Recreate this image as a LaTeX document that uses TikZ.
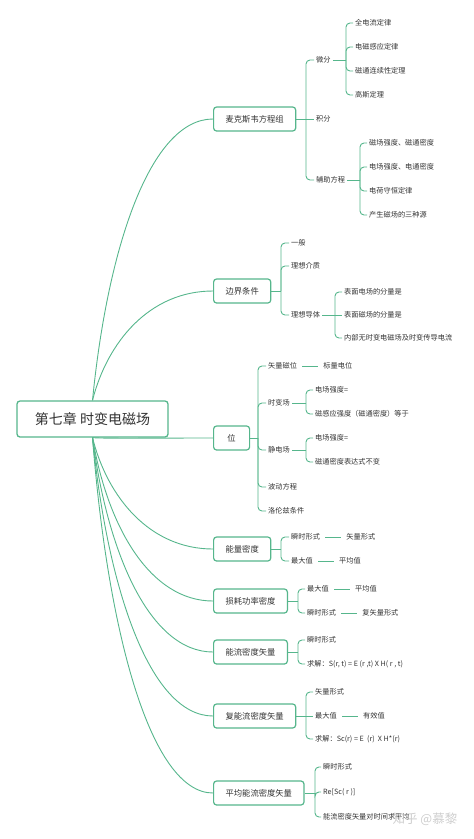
\documentclass[tikz,border=0pt]{standalone}
\usepackage{fontspec}
\setmainfont{Noto Sans CJK SC}
\usetikzlibrary{positioning}
\definecolor{mapgreen}{RGB}{86,182,140}
\definecolor{maptext}{RGB}{51,51,51}
\definecolor{markgray}{RGB}{200,200,200}
\tikzset{rootbox/.style={draw=mapgreen, line width=1.3pt, rounded corners=3pt, fill=white, minimum width=151pt, minimum height=36pt, font=\fontsize{14}{16}\selectfont, text=maptext}}
\tikzset{topicbox/.style={draw=mapgreen, line width=1.2pt, rounded corners=3pt, fill=white, anchor=west, minimum height=24pt, minimum width=36pt, inner xsep=12pt, font=\fontsize{8.3}{10}\selectfont, text=maptext}}
\tikzset{leaftext/.style={anchor=west, inner sep=2pt, font=\fontsize{7.2}{8.6}\selectfont, text=maptext}}
\tikzset{conn/.style={draw=mapgreen, line width=0.9pt}}
\tikzset{forkline/.style={conn, rounded corners=4pt}}
\tikzset{chainline/.style={conn, shorten <=3pt, shorten >=3pt}}

\begin{document}
\begin{tikzpicture}[x=1pt,y=-1pt]
\useasboundingbox (0,0) rectangle (474,839);

\node[rootbox] (root) at (92.5,419) {第七章 时变电磁场};

\node[topicbox] (maxw) at (213,119) {麦克斯韦方程组};
\node[topicbox] (bjtj) at (213,291) {边界条件};
\node[topicbox] (wei) at (213,438) {位};
\node[topicbox] (nlmd) at (213,549) {能量密度};
\node[topicbox] (shmd) at (213,601) {损耗功率密度};
\node[topicbox] (nlsl) at (213,652) {能流密度矢量};
\node[topicbox] (fnsl) at (213,716) {复能流密度矢量};
\node[topicbox] (pjsl) at (213,793) {平均能流密度矢量};

% root to topics
\draw[conn] (root.north) .. controls +(15,-152) and +(-63,0) .. (maxw.west);
\draw[conn] (root.north) .. controls +(15,-59) and +(-63,0) .. (bjtj.west);
\draw[conn] (root.south) .. controls +(15,1) and +(-63,0) .. (wei.west);
\draw[conn] (root.south) .. controls +(15,60) and +(-63,0) .. (nlmd.west);
\draw[conn] (root.south) .. controls +(15,89) and +(-63,0) .. (shmd.west);
\draw[conn] (root.south) .. controls +(15,116) and +(-63,0) .. (nlsl.west);
\draw[conn] (root.south) .. controls +(15,151) and +(-63,0) .. (fnsl.west);
\draw[conn] (root.south) .. controls +(15,192) and +(-63,0) .. (pjsl.west);

% maxwell
\coordinate (maxw-j) at (306,119);
\node[leaftext] (wf) at (314,60) {微分};
\node[leaftext] (jf) at (314,119) {积分};
\node[leaftext] (fz) at (314,180) {辅助方程};
\draw[conn] (maxw.east) -- (maxw-j);
\draw[forkline] (maxw-j) |- (wf.west);
\draw[conn] (maxw-j) -- (jf.west);
\draw[forkline] (maxw-j) |- (fz.west);

\coordinate (wf-j) at (346,60);
\node[leaftext] (wf1) at (353,23) {全电流定律};
\node[leaftext] (wf2) at (353,47) {电磁感应定律};
\node[leaftext] (wf3) at (353,71) {磁通连续性定理};
\node[leaftext] (wf4) at (353,95) {高斯定理};
\draw[conn] (wf.east) -- (wf-j);
\draw[forkline] (wf-j) |- (wf1.west);
\draw[forkline] (wf-j) |- (wf2.west);
\draw[forkline] (wf-j) |- (wf3.west);
\draw[forkline] (wf-j) |- (wf4.west);

\coordinate (fz-j) at (360,180);
\node[leaftext] (fz1) at (367,143) {磁场强度、磁通密度};
\node[leaftext] (fz2) at (367,167) {电场强度、电通密度};
\node[leaftext] (fz3) at (367,191) {电荷守恒定律};
\node[leaftext] (fz4) at (367,215) {产生磁场的三种源};
\draw[conn] (fz.east) -- (fz-j);
\draw[forkline] (fz-j) |- (fz1.west);
\draw[forkline] (fz-j) |- (fz2.west);
\draw[forkline] (fz-j) |- (fz3.west);
\draw[forkline] (fz-j) |- (fz4.west);

% boundary
\coordinate (bjtj-j) at (281,291);
\node[leaftext] (yb) at (289,243) {一般};
\node[leaftext] (lxjz) at (289,266) {理想介质};
\node[leaftext] (lxdt) at (289,315) {理想导体};
\draw[conn] (bjtj.east) -- (bjtj-j);
\draw[forkline] (bjtj-j) |- (yb.west);
\draw[forkline] (bjtj-j) |- (lxjz.west);
\draw[forkline] (bjtj-j) |- (lxdt.west);

\coordinate (lxdt-j) at (335,315);
\node[leaftext] (dt1) at (342,292) {表面电场的分量是};
\node[leaftext] (dt2) at (342,315) {表面磁场的分量是};
\node[leaftext] (dt3) at (342,338) {内部无时变电磁场及时变传导电流};
\draw[conn] (lxdt.east) -- (lxdt-j);
\draw[forkline] (lxdt-j) |- (dt1.west);
\draw[conn] (lxdt-j) -- (dt2.west);
\draw[forkline] (lxdt-j) |- (dt3.west);

% potential
\coordinate (wei-j) at (258,438);
\node[leaftext] (slcw) at (266,366) {矢量磁位};
\node[leaftext] (sbc) at (266,403) {时变场};
\node[leaftext] (jdc) at (266,450) {静电场};
\node[leaftext] (bdfc) at (266,487) {波动方程};
\node[leaftext] (llz) at (266,511) {洛伦兹条件};
\draw[conn] (wei.east) -- (wei-j);
\draw[forkline] (wei-j) |- (slcw.west);
\draw[forkline] (wei-j) |- (sbc.west);
\draw[forkline] (wei-j) |- (jdc.west);
\draw[forkline] (wei-j) |- (bdfc.west);
\draw[forkline] (wei-j) |- (llz.west);

\node[leaftext] (bldw) [right=22pt of slcw] {标量电位};
\draw[chainline] (slcw) -- (bldw);

\coordinate (sbc-j) at (306,403);
\node[leaftext] (sbc1) at (313,390) {电场强度=};
\node[leaftext] (sbc2) at (313,414) {磁感应强度（磁通密度）等于};
\draw[conn] (sbc.east) -- (sbc-j);
\draw[forkline] (sbc-j) |- (sbc1.west);
\draw[forkline] (sbc-j) |- (sbc2.west);

\coordinate (jdc-j) at (306,450);
\node[leaftext] (jdc1) at (313,438) {电场强度=};
\node[leaftext] (jdc2) at (313,462) {磁通密度表达式不变};
\draw[conn] (jdc.east) -- (jdc-j);
\draw[forkline] (jdc-j) |- (jdc1.west);
\draw[forkline] (jdc-j) |- (jdc2.west);

% energy density
\coordinate (nlmd-j) at (281,549);
\node[leaftext] (nl1) at (289,537) {瞬时形式};
\node[leaftext] (nl2) at (289,561) {最大值};
\draw[conn] (nlmd.east) -- (nlmd-j);
\draw[forkline] (nlmd-j) |- (nl1.west);
\draw[forkline] (nlmd-j) |- (nl2.west);
\node[leaftext] (nl1a) [right=22pt of nl1] {矢量形式};
\node[leaftext] (nl2a) [right=22pt of nl2] {平均值};
\draw[chainline] (nl1) -- (nl1a);
\draw[chainline] (nl2) -- (nl2a);

% loss density
\coordinate (shmd-j) at (298,601);
\node[leaftext] (sh1) at (305,589) {最大值};
\node[leaftext] (sh2) at (305,613) {瞬时形式};
\draw[conn] (shmd.east) -- (shmd-j);
\draw[forkline] (shmd-j) |- (sh1.west);
\draw[forkline] (shmd-j) |- (sh2.west);
\node[leaftext] (sh1a) [right=22pt of sh1] {平均值};
\node[leaftext] (sh2a) [right=22pt of sh2] {复矢量形式};
\draw[chainline] (sh1) -- (sh1a);
\draw[chainline] (sh2) -- (sh2a);

% poynting
\coordinate (nlsl-j) at (298,652);
\node[leaftext] (ns1) at (305,640) {瞬时形式};
\node[leaftext] (ns2) at (305,664) {求解：S(r, t) = E (r ,t) X H( r , t)};
\draw[conn] (nlsl.east) -- (nlsl-j);
\draw[forkline] (nlsl-j) |- (ns1.west);
\draw[forkline] (nlsl-j) |- (ns2.west);

% complex poynting
\coordinate (fnsl-j) at (306,716);
\node[leaftext] (fn1) at (313,692) {矢量形式};
\node[leaftext] (fn2) at (313,716) {最大值};
\node[leaftext] (fn3) at (313,739) {求解：Sc(r) = E\ \ (r)\ \ X H*(r)};
\draw[conn] (fnsl.east) -- (fnsl-j);
\draw[forkline] (fnsl-j) |- (fn1.west);
\draw[conn] (fnsl-j) -- (fn2.west);
\draw[forkline] (fnsl-j) |- (fn3.west);
\node[leaftext] (fn2a) [right=22pt of fn2] {有效值};
\draw[chainline] (fn2) -- (fn2a);

% average poynting
\coordinate (pjsl-j) at (315,793);
\node[leaftext] (pj1) at (321,767) {瞬时形式};
\node[leaftext] (pj2) at (321,792) {Re[Sc( r )]};
\node[leaftext] (pj3) at (321,817) {能流密度矢量对时间求平均};
\draw[conn] (pjsl.east) -- (pjsl-j);
\draw[forkline] (pjsl-j) |- (pj1.west);
\draw[forkline] (pjsl-j) |- (pj2.west);
\draw[forkline] (pjsl-j) |- (pj3.west);

\node[text=markgray, opacity=0.9, font=\fontsize{12.5}{14}\selectfont] (zhihu) at (425,819) {知乎 @慕黎};
\end{tikzpicture}
\end{document}
